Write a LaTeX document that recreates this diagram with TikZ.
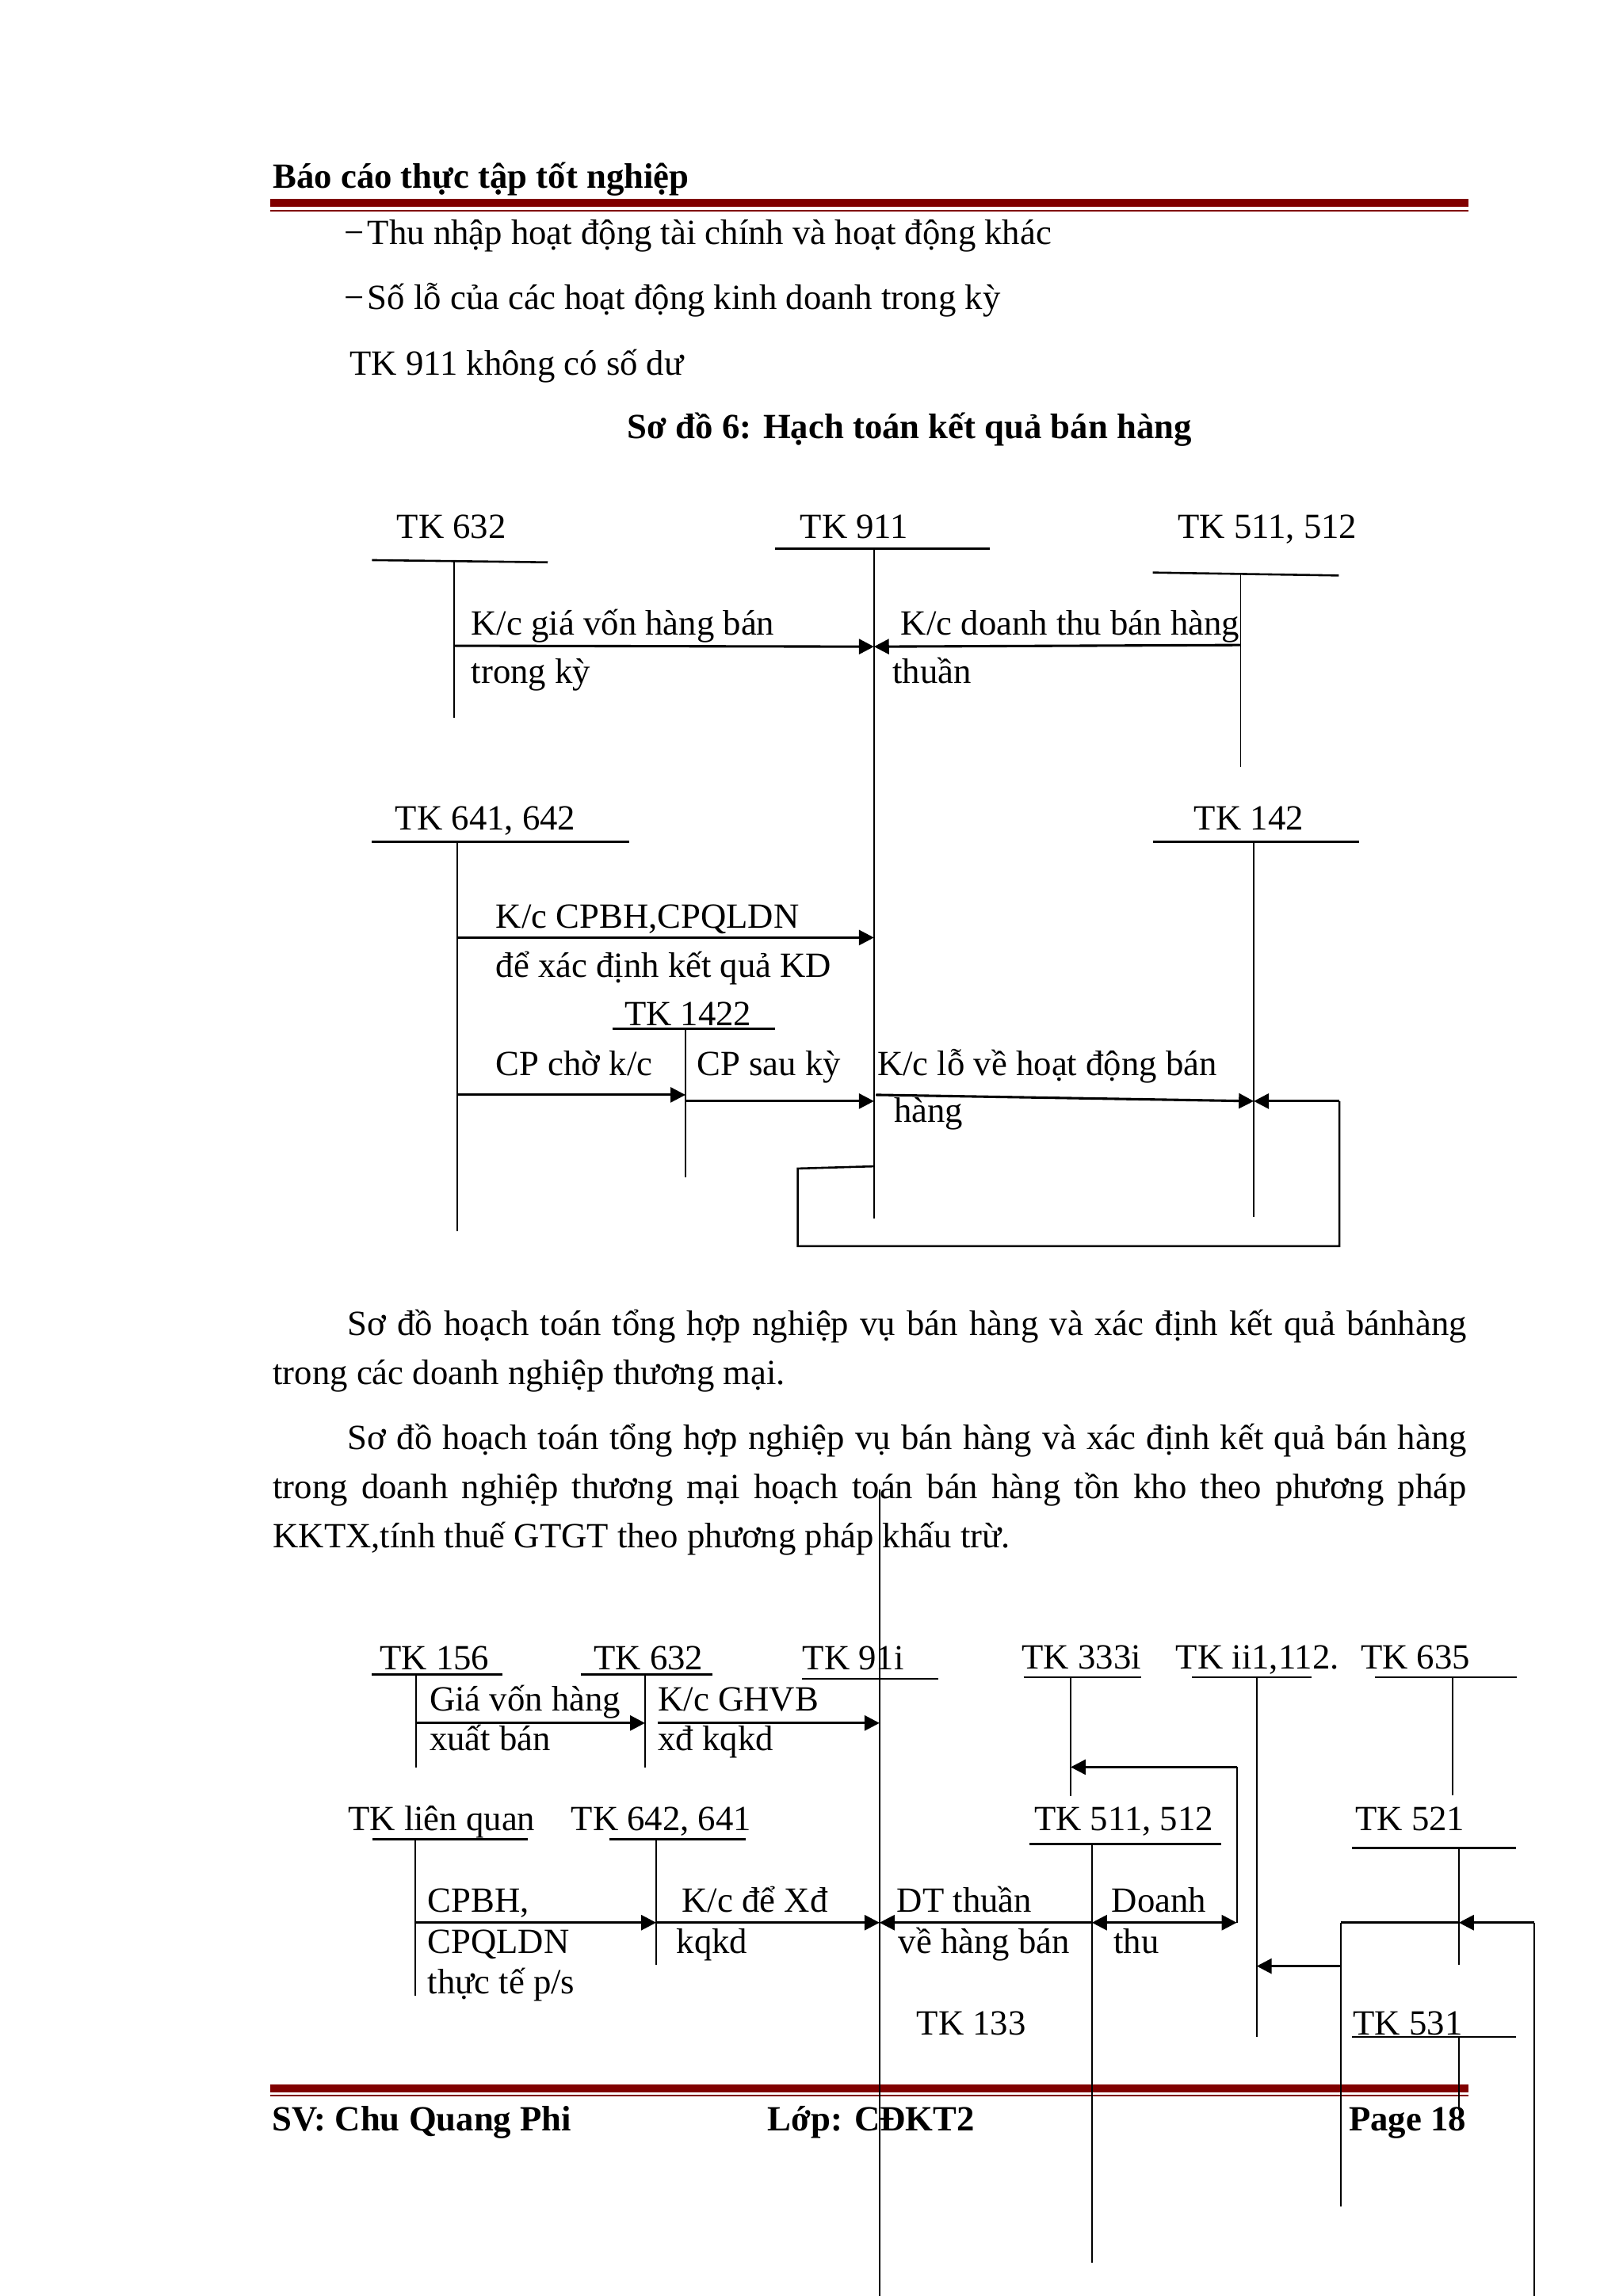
\documentclass[tikz,border=0pt]{standalone}
\usepackage{fontspec}
\setmainfont{Liberation Serif}
\usetikzlibrary{arrows.meta}
\definecolor{maroonrule}{RGB}{128,0,0}
\newdimen\ux \ux=0.5373pt
\tikzset{
  txt/.style={anchor=base west, inner sep=0pt, font=\fontsize{13pt}{15pt}\selectfont},
  btxt/.style={anchor=base west, inner sep=0pt, font=\fontsize{13pt}{15pt}\selectfont\bfseries},
  ul/.style={line width=0.75pt},
  vl/.style={line width=0.55pt},
  arr/.style={line width=0.9pt, -{Triangle[length=5.5pt,width=5.5pt]}},
  dbl/.style={line width=0.9pt, {Triangle[length=5.5pt,width=5.5pt]}-{Triangle[length=5.5pt,width=5.5pt]}},
  hl/.style={line width=0.9pt}
}
\begin{document}
\begin{tikzpicture}[x=0.5373pt,y=-0.5373pt]
\useasboundingbox (0,0) rectangle (1108,1568);
\fill[white] (0,0) rectangle (1108,1568);

% ---------- header ----------
\node[btxt] (hdr) at (186,128.4) {Báo cáo thực tập tốt nghiệp};
\fill[maroonrule] (184.5,135.6) rectangle (1002.6,141);
\draw[maroonrule, line width=0.6pt] (184.5,144) -- (1002.6,144);

% ---------- body text ----------
\node[txt] (l1) at (234.7,166.8) {−\kern1.2pt Thu nhập hoạt động tài chính và hoạt động khác};
\node[txt] (l2) at (234.7,211.4) {−\kern1.2pt Số lỗ của các hoạt động kinh doanh trong kỳ};
\node[txt] (l3) at (238.4,256) {TK 911 không có số dư};
\node[btxt, anchor=base] (ttl) at (621,299.4) {Sơ đồ 6: Hạch toán kết quả bán hàng};

% ---------- diagram 1 ----------
\node[txt] (d632) at (270.6,367.5) {TK 632};
\coordinate (u632a) at (254,382.5); \coordinate (u632b) at (374,384);
\draw[ul] (u632a) -- (u632b);
\coordinate (v632t) at (310,383.5); \coordinate (v632b) at (310,490);
\draw[vl] (v632t) -- (v632b);

\node[txt] (d911) at (546,367.5) {TK 911};
\coordinate (u911a) at (529,374.8); \coordinate (u911b) at (676,374.8);
\draw[ul] (u911a) -- (u911b);
\coordinate (v911t) at (596.7,374.8); \coordinate (v911b) at (596.7,832);
\draw[vl] (v911t) -- (v911b);

\node[txt] (d511) at (804,367.5) {TK 511, 512};
\coordinate (u511a) at (787,391); \coordinate (u511b) at (914,393);
\draw[ul] (u511a) -- (u511b);
\coordinate (v511t) at (847,392.5); \coordinate (v511b) at (847,523.8);
\draw[vl] (v511t) -- (v511b);

\coordinate (a1s) at (310,441); \coordinate (a1e) at (596.7,441.6);
\draw[arr] (a1s) -- (a1e);
\coordinate (a2s) at (847,440.5);
\draw[arr] (a2s) -- (a1e);
\node[txt] (k1) at (321.4,433.7) {K/c giá vốn hàng bán};
\node[txt] (k1b) at (321.4,466.7) {trong kỳ};
\node[txt] (k2) at (614.8,433.7) {K/c doanh thu bán hàng};
\node[txt] (k2b) at (609,466.7) {thuần};

\node[txt] (d641) at (269.6,567) {TK 641, 642};
\coordinate (u641a) at (254,575); \coordinate (u641b) at (429.6,575);
\draw[ul] (u641a) -- (u641b);
\coordinate (v641t) at (312.4,575); \coordinate (v641b) at (312.4,840.6);
\draw[vl] (v641t) -- (v641b);

\node[txt] (d142) at (815,567) {TK 142};
\coordinate (u142a) at (787,575); \coordinate (u142b) at (928,575);
\draw[ul] (u142a) -- (u142b);
\coordinate (v142t) at (856,575); \coordinate (v142b) at (856,831);
\draw[vl] (v142t) -- (v142b);

\coordinate (a3s) at (312.4,640.3); \coordinate (a3e) at (596.7,640.3);
\draw[arr] (a3s) -- (a3e);
\node[txt] (k3) at (338.2,634) {K/c CPBH,CPQLDN};
\node[txt] (k3b) at (338.2,667.5) {để xác định kết quả KD};

\node[txt] (d1422) at (426,700.6) {TK 1422};
\coordinate (u1422a) at (418,702.7); \coordinate (u1422b) at (529,702.7);
\draw[ul] (u1422a) -- (u1422b);
\coordinate (v1422t) at (468,702.7); \coordinate (v1422b) at (468,804);
\draw[vl] (v1422t) -- (v1422b);

\node[txt] (k4) at (338.2,734.5) {CP chờ k/c};
\coordinate (a4s) at (312.4,747.7); \coordinate (a4e) at (468,747.7);
\draw[arr] (a4s) -- (a4e);
\node[txt] (k5) at (475.6,734.5) {CP sau kỳ};
\coordinate (a5s) at (468,752); \coordinate (a5e) at (596.7,752);
\draw[arr] (a5s) -- (a5e);
\node[txt] (k6) at (598.7,734.5) {K/c lỗ về hoạt động bán};
\node[txt] (k6b) at (610,766.6) {hàng};
\coordinate (a6s) at (598,747.7); \coordinate (a6e) at (856,752);
\draw[arr] (a6s) -- (a6e);

\coordinate (lp1) at (596.7,796.5); \coordinate (lp2) at (544.6,798);
\coordinate (lp3) at (544.6,851); \coordinate (lp4) at (914.5,851);
\coordinate (lp5) at (914.5,752);
\draw[line width=0.75pt] (lp1) -- (lp2) -- (lp3) -- (lp4) -- (lp5);
\draw[arr] (lp5) -- (a6e);

% ---------- paragraphs ----------
\node[txt] (p1) at (237,911.7) {\makebox[764\ux][s]{Sơ đồ hoạch toán tổng hợp nghiệp vụ bán hàng và xác định kết quả bánhàng}};
\node[txt] (p2) at (186,945.6) {trong các doanh nghiệp thương mại.};
\node[txt] (p3) at (237,989.7) {\makebox[764\ux][s]{Sơ đồ hoạch toán tổng hợp nghiệp vụ bán hàng và xác định kết quả bán hàng}};
\node[txt] (p4) at (186,1023.4) {\makebox[815\ux][s]{trong doanh nghiệp thương mại hoạch toán bán hàng tồn kho theo phương pháp}};
\node[txt] (p5) at (186,1057) {KKTX,tính thuế GTGT theo phương pháp khấu trừ.};

% ---------- footer ----------
\fill[maroonrule] (184.5,1423.4) rectangle (1002.6,1428.7);
\draw[maroonrule, line width=0.6pt] (184.5,1431) -- (1002.6,1431);
\node[btxt] (f1) at (185.6,1455) {SV: Chu Quang Phi};
\node[btxt] (f2) at (523.8,1455) {Lớp: CĐKT2};
\node[btxt] (f3) at (920.6,1455) {Page 18};

% ---------- diagram 2 ----------
\node[txt] (e156) at (259,1140.5) {TK 156};
\coordinate (w156a) at (254,1143.6); \coordinate (w156b) at (343,1143.6);
\draw[ul] (w156a) -- (w156b);
\coordinate (x156t) at (284,1143.6); \coordinate (x156b) at (284,1207);
\draw[vl] (x156t) -- (x156b);

\node[txt] (e632) at (405,1140.5) {TK 632};
\coordinate (w632a) at (396.5,1143.6); \coordinate (w632b) at (486.6,1143.6);
\draw[ul] (w632a) -- (w632b);
\coordinate (x632t) at (440.4,1143.6); \coordinate (x632b) at (440.4,1207);
\draw[vl] (x632t) -- (x632b);

\node[txt] (e911) at (547.6,1140.5) {TK 91i};
\coordinate (w911a) at (547.6,1146.6); \coordinate (w911b) at (640.6,1146.6);
\draw[ul] (w911a) -- (w911b);
\coordinate (x911t) at (600.5,1017); \coordinate (x911b) at (600.5,1568);
\draw[vl] (x911t) -- (x911b);

\node[txt] (e333) at (697.4,1139.6) {TK 333i};
\coordinate (w333a) at (698.8,1145.5); \coordinate (w333b) at (779,1145.5);
\draw[ul] (w333a) -- (w333b);
\coordinate (x333t) at (731,1145.5); \coordinate (x333b) at (731,1226.4);
\draw[vl] (x333t) -- (x333b);

\node[txt] (e111) at (802.5,1139.6) {TK ii1,112.};
\coordinate (w111a) at (814,1145.5); \coordinate (w111b) at (895.7,1145.5);
\draw[ul] (w111a) -- (w111b);
\coordinate (x111t) at (858,1145.5); \coordinate (x111b) at (858,1391);
\draw[vl] (x111t) -- (x111b);

\node[txt] (e635) at (928.7,1139.6) {TK 635};
\coordinate (w635a) at (939,1145.5); \coordinate (w635b) at (1035.5,1145.5);
\draw[ul] (w635a) -- (w635b);
\coordinate (x635t) at (991.7,1145.5); \coordinate (x635b) at (991.7,1226);
\draw[vl] (x635t) -- (x635b);

\coordinate (b1s) at (284,1176.7); \coordinate (b1e) at (440.4,1176.7);
\draw[arr] (b1s) -- (b1e);
\coordinate (b2s) at (449,1176.7); \coordinate (b2e) at (600.5,1176.7);
\draw[arr] (b2s) -- (b2e);
\node[txt] (g1) at (293,1168.6) {Giá vốn hàng};
\node[txt] (g1b) at (293,1195.6) {xuất bán};
\node[txt] (g2) at (449,1168.6) {K/c GHVB};
\node[txt] (g2b) at (449,1195.6) {xđ kqkd};

\node[txt] (elq) at (237.3,1250.3) {TK liên quan};
\coordinate (wlqa) at (254.4,1256); \coordinate (wlqb) at (360.5,1256);
\draw[ul] (wlqa) -- (wlqb);
\coordinate (xlqt) at (283.5,1256); \coordinate (xlqb) at (283.5,1363);
\draw[vl] (xlqt) -- (xlqb);

\node[txt] (e642) at (389.6,1250.3) {TK 642, 641};
\coordinate (w642a) at (416,1256); \coordinate (w642b) at (509,1256);
\draw[ul] (w642a) -- (w642b);
\coordinate (x642t) at (448,1256); \coordinate (x642b) at (448,1342);
\draw[vl] (x642t) -- (x642b);

\node[txt] (e511) at (705.8,1250.3) {TK 511, 512};
\coordinate (w511a) at (703,1259.4); \coordinate (w511b) at (833.5,1259.4);
\draw[ul] (w511a) -- (w511b);
\coordinate (x511t) at (745.5,1259.4); \coordinate (x511b) at (745.5,1545.5);
\draw[vl] (x511t) -- (x511b);

\node[txt] (e521) at (925,1250.3) {TK 521};
\coordinate (w521a) at (923,1262); \coordinate (w521b) at (1035,1262);
\draw[ul] (w521a) -- (w521b);
\coordinate (x521t) at (996,1262); \coordinate (x521b) at (996,1342);
\draw[vl] (x521t) -- (x521b);

\coordinate (c1s) at (283.5,1313); \coordinate (c1e) at (448,1313);
\draw[arr] (c1s) -- (c1e);
\coordinate (c2e) at (600.5,1313);
\draw[arr] (c1e) -- (c2e);
\coordinate (c3s) at (745.5,1313);
\draw[arr] (c3s) -- (c2e);
\coordinate (c4e) at (844.4,1313);
\draw[dbl] (c3s) -- (c4e);
\coordinate (c5a) at (844.4,1206.8); \coordinate (c5e) at (731,1206.8);
\draw[vl] (c4e) -- (c5a);
\draw[arr] (c5a) -- (c5e);

\node[txt] (h1) at (291.6,1305.8) {CPBH,};
\node[txt] (h1b) at (291.6,1334) {CPQLDN};
\node[txt] (h1c) at (291.6,1361.8) {thực tế p/s};
\node[txt] (h2) at (465.3,1305.8) {K/c để Xđ};
\node[txt] (h2b) at (461.5,1334) {kqkd};
\node[txt] (h3) at (612,1305.8) {DT thuần};
\node[txt] (h3b) at (613,1334) {về hàng bán};
\node[txt] (h4) at (758.6,1305.8) {Doanh};
\node[txt] (h4b) at (760,1334) {thu};

% right side
\coordinate (r1b) at (1047.7,1568); \coordinate (r1t) at (1047.7,1313);
\coordinate (r1e) at (996,1313);
\draw[vl] (r1b) -- (r1t);
\draw[arr] (r1t) -- (r1e);
\coordinate (r2) at (915.4,1313); \coordinate (r2b) at (915.4,1507);
\draw[hl] (r1e) -- (r2);
\draw[vl] (r2) -- (r2b);
\coordinate (r3s) at (915.4,1342.7); \coordinate (r3e) at (858,1342.7);
\draw[arr] (r3s) -- (r3e);

\node[txt] (e133) at (625.5,1389.6) {TK 133};
\node[txt] (e531) at (923.5,1389.6) {TK 531};
\coordinate (w531a) at (923,1391); \coordinate (w531b) at (1035,1391);
\draw[ul] (w531a) -- (w531b);
\coordinate (x531t) at (996,1391); \coordinate (x531b) at (996,1440.8);
\draw[vl] (x531t) -- (x531b);
\end{tikzpicture}
\end{document}
